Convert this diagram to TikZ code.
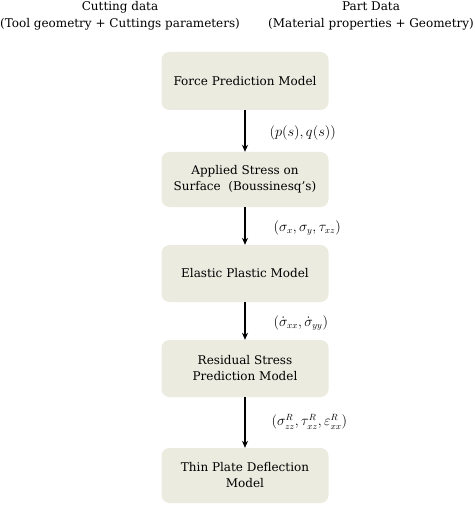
\documentclass[tikz,border=0pt]{standalone}
\usepackage{fontspec}
\setmainfont{DejaVu Serif}
\usetikzlibrary{arrows.meta}
\definecolor{boxfill}{HTML}{EBEBE0}
\tikzset{
  stepbox/.style={fill=boxfill, rounded corners=8pt, minimum width=167pt, align=center, font=\fontsize{12}{16}\selectfont, inner sep=0pt},
  flow/.style={-{Stealth[length=7pt,width=6pt]}, line width=1.2pt},
  lbl/.style={anchor=west, font=\fontsize{13.5}{15}\selectfont},
  head/.style={font=\fontsize{12}{17}\selectfont, align=center}
}
\begin{document}
\begin{tikzpicture}[x=1pt,y=-1pt]
\useasboundingbox (0,0) rectangle (474,505);
\node[head] (cut) at (120,16) {Cutting data\\(Tool geometry + Cuttings parameters)};
\node[head] (part) at (371,16) {Part Data\\(Material properties + Geometry)};
\node[stepbox, minimum height=58pt] (b1) at (245,81) {Force Prediction Model};
\node[stepbox, minimum height=55pt] (b2) at (245,179.5) {Applied Stress on\\Surface\ \ (Boussinesq's)};
\node[stepbox, minimum height=57pt] (b3) at (245,273.5) {Elastic Plastic Model};
\node[stepbox, minimum height=57pt] (b4) at (245,368.5) {Residual Stress\\Prediction Model};
\node[stepbox, minimum height=55pt] (b5) at (245,475.5) {Thin Plate Deflection\\Model};
\draw[flow] (b1) -- (b2);
\draw[flow] (b2) -- (b3);
\draw[flow] (b3) -- (b4);
\draw[flow] (b4) -- (b5);
\node[lbl] (l1) at (266,133) {$(p(s),q(s))$};
\node[lbl] (l2) at (270,228) {$(\sigma_x, \sigma_y,\tau_{xz})$};
\node[lbl] (l3) at (270,323) {$(\dot\sigma_{xx}, \dot\sigma_{yy})$};
\node[lbl] (l4) at (268,422) {$(\sigma^R_{zz},\tau^R_{xz},\varepsilon^R_{xx})$};
\end{tikzpicture}
\end{document}
